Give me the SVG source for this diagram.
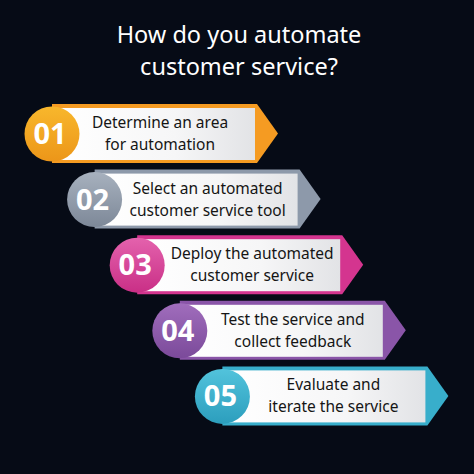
<svg xmlns="http://www.w3.org/2000/svg" width="474" height="474" viewBox="0 0 474 474">
<defs>
<linearGradient id="wg" x1="0" y1="0" x2="1" y2="0"><stop offset="0" stop-color="#ffffff"/><stop offset="0.6" stop-color="#f6f6f7"/><stop offset="1" stop-color="#e2e3e6"/></linearGradient>
<linearGradient id="c1" x1="0" y1="0" x2="0" y2="1"><stop offset="0" stop-color="#f8b72c"/><stop offset="1" stop-color="#ec9619"/></linearGradient>
<linearGradient id="c2" x1="0" y1="0" x2="0" y2="1"><stop offset="0" stop-color="#a7b1be"/><stop offset="1" stop-color="#7d8898"/></linearGradient>
<linearGradient id="c3" x1="0" y1="0" x2="0" y2="1"><stop offset="0" stop-color="#e462ad"/><stop offset="1" stop-color="#c92f86"/></linearGradient>
<linearGradient id="c4" x1="0" y1="0" x2="0" y2="1"><stop offset="0" stop-color="#a06dbc"/><stop offset="1" stop-color="#7b4a9a"/></linearGradient>
<linearGradient id="c5" x1="0" y1="0" x2="0" y2="1"><stop offset="0" stop-color="#52c3dc"/><stop offset="1" stop-color="#2c9ebd"/></linearGradient>
<path id="band" d="M0,-30 H205 L226,-0.5 L205,29 H0 Z"/>
</defs>
<style>
.title{font-family:"Noto Sans","DejaVu Sans",sans-serif;font-size:23.5px;fill:#ffffff;text-anchor:middle}
.lbl{font-family:"Noto Sans","DejaVu Sans",sans-serif;font-size:15.5px;fill:#151515;text-anchor:middle}
.num{font-family:"Noto Sans","DejaVu Sans",sans-serif;font-size:29px;font-weight:bold;fill:#ffffff;text-anchor:middle}
.inner{fill:url(#wg)}
</style>
<rect width="474" height="474" fill="#060b16"/>
<g id="title">
<text class="title" x="239" y="43">How do you automate</text>
<text class="title" x="239" y="75">customer service?</text>
</g>
<g id="step1" transform="translate(52,134)">
<use href="#band" fill="#f59b22"/>
<rect class="inner" x="5" y="-26" width="198" height="52"/>
<circle r="27.5" fill="url(#c1)"/>
<text class="num" x="-2" y="10">01</text>
<text class="lbl" x="108" y="-6">Determine an area</text>
<text class="lbl" x="108" y="16">for automation</text>
</g>
<g id="step2" transform="translate(94.6,199.6)">
<use href="#band" fill="#8d99aa"/>
<rect class="inner" x="5" y="-26" width="198" height="52"/>
<circle r="27.5" fill="url(#c2)"/>
<text class="num" x="-2" y="10">02</text>
<text class="lbl" x="113" y="-6">Select an automated</text>
<text class="lbl" x="113" y="16">customer service tool</text>
</g>
<g id="step3" transform="translate(137.2,265.2)">
<use href="#band" fill="#d4358f"/>
<rect class="inner" x="5" y="-26" width="198" height="52"/>
<circle r="27.5" fill="url(#c3)"/>
<text class="num" x="-2" y="10">03</text>
<text class="lbl" x="115" y="-6">Deploy the automated</text>
<text class="lbl" x="115" y="16">customer service</text>
</g>
<g id="step4" transform="translate(179.8,330.8)">
<use href="#band" fill="#8a55a8"/>
<rect class="inner" x="5" y="-26" width="198" height="52"/>
<circle r="27.5" fill="url(#c4)"/>
<text class="num" x="-2" y="10">04</text>
<text class="lbl" x="113" y="-6">Test the service and</text>
<text class="lbl" x="113" y="16">collect feedback</text>
</g>
<g id="step5" transform="translate(222.4,396.4)">
<use href="#band" fill="#38aecb"/>
<rect class="inner" x="5" y="-26" width="198" height="52"/>
<circle r="27.5" fill="url(#c5)"/>
<text class="num" x="-2" y="10">05</text>
<text class="lbl" x="111" y="-6">Evaluate and</text>
<text class="lbl" x="111" y="16">iterate the service</text>
</g>
<g id="connectors"/>
</svg>
